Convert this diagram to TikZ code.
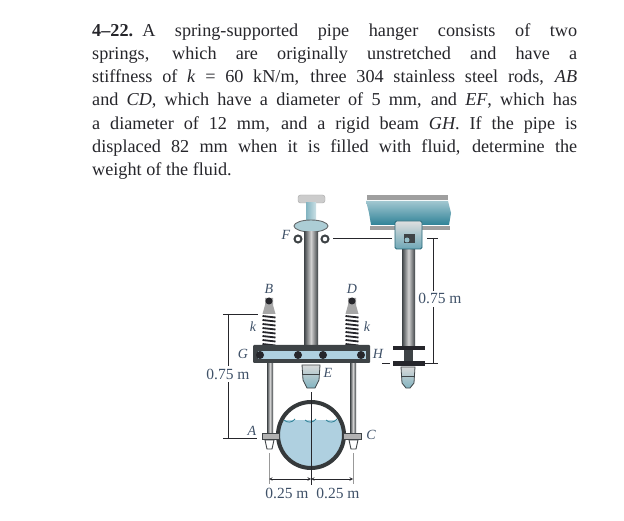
\documentclass[tikz,border=0pt]{standalone}
\usepackage{fontspec}
\setmainfont{Liberation Serif}
\usetikzlibrary{positioning}
\definecolor{inkc}{HTML}{26262B}
\definecolor{labc}{HTML}{3F5168}
\definecolor{steelc}{HTML}{3E4346}
\definecolor{waterc}{HTML}{AFD0E0}
\definecolor{tealc}{HTML}{2F8297}
\tikzset{
	lab/.style={inner sep=0pt,text=labc,font=\fontsize{14}{14}\selectfont\itshape},
	dimtxt/.style={inner sep=0pt,outer sep=3pt,text=labc,font=\fontsize{15.5}{15.5}\selectfont},
	dimline/.style={draw=inkc,line width=.9pt},
	rod/.style={left color=steelc,right color=steelc,middle color=gray!35},
	nutc/.style={top color=gray!30,bottom color=tealc!60,draw=steelc,line width=.8pt},
}
\begin{document}
\begin{tikzpicture}[x=1pt,y=-1pt]
	\useasboundingbox[fill=white] (0,0) rectangle (624,521);
	\def\springw{6.5}
	% problem text
	\node[anchor=north west,inner sep=0pt,text width=485pt,align=justify,text=inkc,
		font=\fontsize{18.2}{23.3}\selectfont] (problem) at (92,23)
		{\textbf{4--22.}\enspace A spring-supported pipe hanger consists of two\linebreak
		springs, which are originally unstretched and have a\linebreak
		stiffness of \textit{k} = 60 kN/m, three 304 stainless steel rods, \textit{AB}\linebreak
		and \textit{CD}, which have a diameter of 5 mm, and \textit{EF}, which has\linebreak
		a diameter of 12 mm, and a rigid beam \textit{GH}. If the pipe is\linebreak
		displaced 82 mm when it is filled with fluid, determine the\linebreak
		weight of the fluid.};
	% fixed I-beam
	\fill[gray!75] (367,195) rectangle (448,200);
	\fill[gray!75] (370,226) rectangle (450,230);
	\shade[top color=tealc!45,bottom color=tealc] (366,201)--(448,201)--(451,213)--(449,225)--(371,225)--(369,213)--cycle;
	% upper T and collar
	\fill[gray!40,draw=gray!70,rounded corners=2.5pt] (298,195) rectangle (325,203);
	\shade[left color=tealc!60,right color=tealc!25] (306,203) rectangle (316,224);
	\fill[tealc!40,draw=steelc!80,line width=.9pt] (311,226) ellipse (17 and 6);
	\draw[steelc,line width=2pt,fill=white] (298,239) circle (3.5);
	\draw[steelc,line width=2pt,fill=white] (325,239) circle (3.5);
	% rod EF
	\shade[rod] (304,232) rectangle (318,345);
	% rod at the bracket
	\shade[rod] (402,249) rectangle (415,350);
	\fill[steelc] (404,350) rectangle (413,362);
	\fill[inkc] (393,346) rectangle (425,350);
	\fill[inkc] (393,361) rectangle (425,366);
	\shade[nutc] (401,367)--(415,367)--(414,383)--(410,388)--(406,388)--(402,383)--cycle;
	\draw[steelc,line width=.8pt] (401,376)--(415,376);
	% bracket
	\shade[top color=gray!25,bottom color=tealc!70,draw=tealc!80!black,rounded corners=1.5pt,line width=.8pt] (395,221) rectangle (422,249);
	\fill[steelc] (404,234) rectangle (415,243);
	\fill[tealc!50] (407,240) circle (2.5);
	% side rods
	\shade[rod] (267,363) rectangle (273,435);
	\shade[rod] (350,363) rectangle (356,435);
	% springs
	\foreach \xs in {269,352} {
		\fill[gray!70] (\xs-4,298)--(\xs+4,298)--(\xs+4,305)--(\xs+\springw,314)--(\xs-\springw,314)--(\xs-4,305)--cycle;
		\fill[inkc] (\xs,301) circle (3.5);
		\foreach \ys in {316,320,...,344} {
			\draw[inkc,line width=1.8pt] (\xs-\springw,\ys)--(\xs+\springw,\ys+1.5);
		}
	}
	% beam GH
	\fill[steelc,rounded corners=1pt] (253,345) rectangle (370,363);
	\fill[waterc] (258,351) rectangle (366,359);
	\foreach \xb in {260,298,323,361} {
		\fill[inkc] (\xb,355) circle (4);
	}
	% nut E
	\shade[nutc] (302,365)--(320,365)--(319,380)--(315,388)--(307,388)--(303,380)--cycle;
	\draw[steelc,line width=.8pt] (302,374)--(320,374);
	% pipe with fluid
	\fill[white] (311,435) circle (35);
	\begin{scope}
		\clip (311,435) circle (32);
		\fill[waterc] (270,420) rectangle (352,470);
	\end{scope}
	\draw[steelc!85!black,line width=4pt] (311,435) circle (33);
	\foreach \xw in {290,311,332} {
		\draw[tealc,line width=.8pt] (\xw-6,420) .. controls (\xw-3,423) and (\xw+2,423) .. (\xw+5,419);
	}
	% clamps
	\fill[gray!60,draw=steelc] (262,433) rectangle (279,439);
	\fill[gray!60,draw=steelc] (343,433) rectangle (361,439);
	\draw[steelc,fill=white,line width=.9pt] (265,440)--(274,440)--(272,449)--(267,449)--cycle;
	\draw[steelc,fill=white,line width=.9pt] (349,440)--(358,440)--(356,449)--(351,449)--cycle;
	% labels
	\node[lab] (labF) at (286,235) {F};
	\node[lab] (labB) at (269,289) {B};
	\node[lab] (labD) at (352,289) {D};
	\node[lab] (labkl) at (253,327) {k};
	\node[lab] (labkr) at (367,327) {k};
	\node[lab] (labG) at (243,354) {G};
	\node[lab] (labH) at (378,354) {H};
	\node[lab] (labE) at (328,373) {E};
	\node[lab] (labA) at (252,431) {A};
	\node[lab] (labC) at (371,435) {C};
	\node[dimtxt] (dimleft) at (228,374) {0.75 m};
	\node[dimtxt] (dimright) at (440,298) {0.75 m};
	\node[dimtxt] (dimbl) at (287,493) {0.25 m};
	\node[dimtxt] (dimbr) at (338,493) {0.25 m};
	% dimension lines
	\coordinate (ltopa) at (223,314);
	\coordinate (ltopb) at (258,314);
	\coordinate (lbota) at (223,438);
	\coordinate (lbotb) at (257,438);
	\coordinate (lup) at (228,314);
	\coordinate (ldown) at (228,438);
	\draw[dimline] (ltopa)--(ltopb);
	\draw[dimline] (lbota)--(lbotb);
	\draw[dimline] (lup)--(dimleft);
	\draw[dimline] (dimleft)--(ldown);
	\coordinate (ftaila) at (333,238);
	\coordinate (ftailb) at (392,238);
	\coordinate (rtopa) at (427,238);
	\coordinate (rtopb) at (438,238);
	\coordinate (rbota) at (423,363);
	\coordinate (rbotb) at (438,363);
	\coordinate (hticka) at (382,363);
	\coordinate (htickb) at (390,363);
	\coordinate (rup) at (433,238);
	\coordinate (rmid) at (433,291);
	\coordinate (rmidb) at (433,307);
	\coordinate (rdown) at (433,363);
	\draw[dimline] (ftaila)--(ftailb);
	\draw[dimline] (rtopa)--(rtopb);
	\draw[dimline] (rbota)--(rbotb);
	\draw[dimline] (hticka)--(htickb);
	\draw[dimline] (rup)--(rmid);
	\draw[dimline] (rmidb)--(rdown);
	\coordinate (cltop) at (311,392);
	\coordinate (clbot) at (311,485);
	\coordinate (dimc) at (311,479);
	\coordinate (extla) at (269,453);
	\coordinate (extlb) at (269,484);
	\coordinate (extra) at (353,453);
	\coordinate (extrb) at (353,484);
	\coordinate (diml) at (269,479);
	\coordinate (dimr) at (353,479);
	\draw[inkc,line width=1pt] (cltop)--(clbot);
	\draw[gray!80,line width=.9pt] (extla)--(extlb);
	\draw[gray!80,line width=.9pt] (extra)--(extrb);
	\draw[dimline,line width=.6pt,stealth-stealth] (diml)--(dimc);
	\draw[dimline,line width=.6pt,stealth-stealth] (dimc)--(dimr);
\end{tikzpicture}
\end{document}
